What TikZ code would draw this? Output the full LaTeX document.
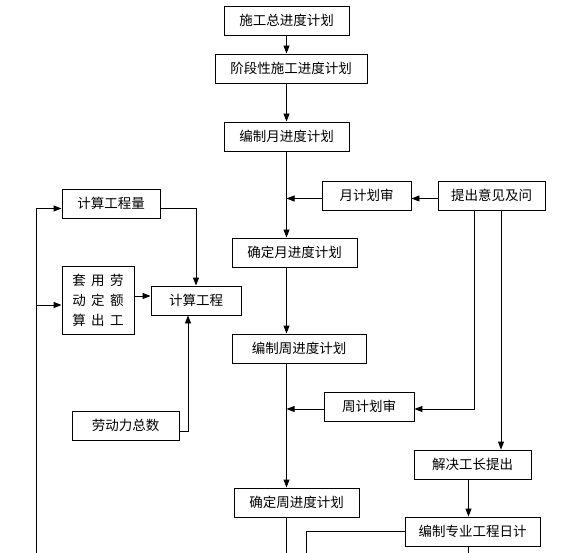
\documentclass[tikz,border=0pt]{standalone}
\usepackage{fontspec}
\newfontfamily\cjk{Noto Sans CJK SC}
\usetikzlibrary{arrows.meta}
\tikzset{
  box/.style={draw, line width=0.9pt, minimum height=29pt, inner sep=2pt,
    font=\cjk\fontsize{13.5}{20}\selectfont},
  arr/.style={-{Triangle[length=8pt,width=6pt]}},
}
\begin{document}
\begin{tikzpicture}[x=1pt,y=-1pt,line width=0.9pt]
  \useasboundingbox (0,0) rectangle (575,553);
  %Nodes
  \node[box, minimum width=125pt] at (286.5,20.5)  (zong)   {施工总进度计划};
  \node[box, minimum width=152pt] at (291,68.5)    (jieduan){阶段性施工进度计划};
  \node[box, minimum width=125pt] at (286.5,136.5) (bianyue){编制月进度计划};
  \node[box, minimum width=89pt]  at (366.5,195.5) (yueshen){月计划审};
  \node[box, minimum width=107pt] at (491.5,195.5) (tichu)  {提出意见及问};
  \node[box, minimum width=125pt] at (294.5,252.5) (qdyue)  {确定月进度计划};
  \node[box, minimum width=98pt]  at (111,203.5)   (gcl)    {计算工程量};
  \node[box, minimum width=72pt, minimum height=68pt, align=center]
                                  at (98,300)      (taoyong){套\hspace{5.5pt}用\hspace{5.5pt}劳\\动\hspace{5.5pt}定\hspace{5.5pt}额\\算\hspace{5.5pt}出\hspace{5.5pt}工};
  \node[box, minimum width=90pt]  at (196,300.5)   (jsgc)   {计算工程};
  \node[box, minimum width=134pt] at (299,348.5)   (bianzhou){编制周进度计划};
  \node[box, minimum width=90pt]  at (369,406.5)   (zhoushen){周计划审};
  \node[box, minimum width=107pt] at (125.5,425.5) (ldl)    {劳动力总数};
  \node[box, minimum width=117pt] at (472.5,464.5) (jiejue) {解决工长提出};
  \node[box, minimum width=125pt] at (296.5,502.5) (qdzhou) {确定周进度计划};
  \node[box, minimum width=135pt] at (472.5,531.5) (bianzhuan){编制专业工程日计};

  \coordinate (spine) at (286.5,553);
  \coordinate (left)  at (36,553);
  \coordinate (zend)  at (306,553);

  %Lines
  \draw[arr] (zong.south)                 -- (zong.south |- jieduan.north);
  \draw[arr] (jieduan.south -| bianyue)   -- (bianyue.north);
  \draw[arr] (bianyue.south)              -- (qdyue.north -| spine);
  \draw[arr] ([yshift=-3pt]yueshen.west)  -- ([yshift=-3pt]yueshen.west -| spine);
  \draw[arr] ([yshift=-3pt]tichu.west)    -- ([yshift=-3pt]yueshen.east);
  \draw[arr] (qdyue.south -| spine)       -- (bianzhou.north -| spine);
  \draw[arr] (bianzhou.south -| spine)    -- (qdzhou.north -| spine);
  \draw[arr] ([yshift=-2.5pt]zhoushen.west) -- ([yshift=-2.5pt]zhoushen.west -| spine);
  \draw      (qdzhou.south -| spine)      -- (spine);
  \draw[arr] ([xshift=-17.5pt]tichu.south) |- ([yshift=-2.5pt]zhoushen.east);
  \draw[arr] ([xshift=9.5pt]tichu.south)  -- ([xshift=9.5pt]tichu.south |- jiejue.north);
  \draw[arr] ([xshift=-4pt]jiejue.south)  -- ([xshift=-4pt]bianzhuan.north);
  \draw      ([xshift=-4pt]bianzhuan.south) -- ([xshift=-4pt]bianzhuan.south |- spine);
  \draw      (bianzhuan.west)             -| (zend);
  \draw[arr] (left)                       |- ([yshift=-5pt]gcl.west);
  \draw[arr] (left |- taoyong.west) ++(0,5) -- ([yshift=-5pt]taoyong.west);
  \draw[arr] ([yshift=-5pt]gcl.east)      -| (jsgc.north);
  \draw[arr] ([yshift=4.5pt]jsgc.west -| taoyong.east) -- ([yshift=4.5pt]jsgc.west);
  \draw[arr] ([yshift=-5.5pt]ldl.east)    -| ([xshift=-8pt]jsgc.south);
\end{tikzpicture}
\end{document}
